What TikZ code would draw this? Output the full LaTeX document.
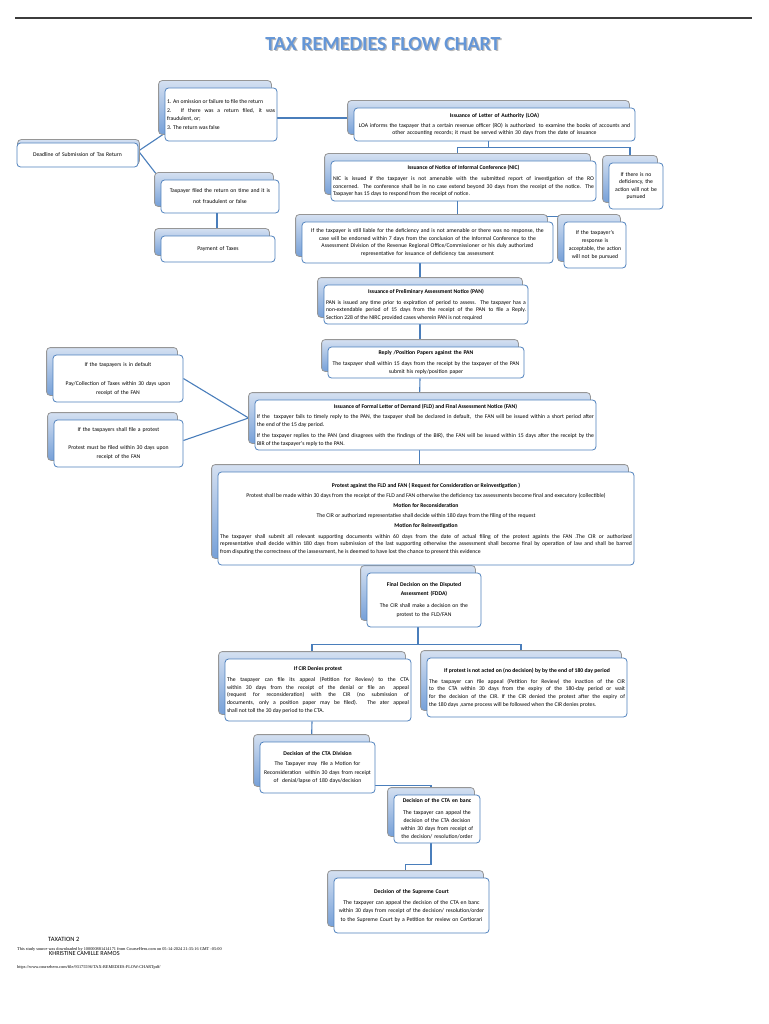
\documentclass[tikz,border=0pt]{standalone}
\usepackage{fontspec}
\setmainfont{Carlito}
\newfontfamily\notefont{Liberation Serif}
\usetikzlibrary{calc}
\setlength{\parindent}{0pt}

\pgfdeclarelayer{background}
\pgfsetlayers{background,main}

\definecolor{frontblue}{RGB}{79,129,189}
\definecolor{linkblue}{RGB}{74,126,187}
\definecolor{backgray}{RGB}{150,150,150}
\definecolor{backtop}{RGB}{212,224,241}
\definecolor{backbot}{RGB}{118,160,216}
\definecolor{titleblue}{RGB}{100,150,215}
\definecolor{rulegray}{RGB}{60,60,60}

\tikzset{
  chartbox/.style={draw=frontblue, fill=white, rounded corners=3.5pt, line width=0.8pt,
    inner xsep=2pt, inner ysep=1pt, font=\fontsize{5.7}{7.4}\selectfont},
  lead/.style={font=\fontsize{5.7}{#1}\selectfont},
  backbox/.style={draw=backgray, line width=0.8pt, rounded corners=3.5pt,
    top color=backtop, bottom color=backbot},
  link/.style={draw=linkblue, line width=1.1pt},
}
\newcommand{\boxhead}[2][3pt]{{\centering\bfseries #2\par}\vspace{#1}}

\begin{document}
\begin{tikzpicture}[x=1pt,y=-1pt]
  \useasboundingbox (0,0) rectangle (768,1024);

  % heading
  \draw[line width=1.5pt, rulegray] (15,18) -- (752,18);
  \node[anchor=base, text=gray!55, font=\fontsize{20}{24}\selectfont\bfseries] at (384.3,51.8) {TAX REMEDIES FLOW CHART};
  \node[anchor=base, text=titleblue, font=\fontsize{20}{24}\selectfont\bfseries] (title) at (383,50.5) {TAX REMEDIES FLOW CHART};

  % left column
  \node[chartbox, text width=117pt, minimum height=24pt, align=center] (deadline) at (77.5,155) {Deadline of Submission of Tax Return};
  \node[chartbox, text width=108pt, minimum height=53pt, align=justify, lead=8.6] (omit) at (221,114.5)
    {1. An omission or failure to file the return\par
     2. If there was a return filed, it was\linebreak fraudulent, or;\par
     3. The return was false};
  \node[chartbox, text width=114pt, minimum height=33pt, align=center, lead=11] (filed) at (220,196.5)
    {Taxpayer filed the return on time and it is\\ not fraudulent or false};
  \node[chartbox, text width=110pt, minimum height=26pt, align=center] (payment) at (218,249) {Payment of Taxes};

  % investigation
  \node[chartbox, text width=277pt, minimum height=33pt, align=center] (loa) at (494.5,124.5)
    {\textbf{Issuance of Letter of Authority (LOA)}\\[2.5pt]
     LOA informs the taxpayer that a certain revenue officer (RO) is authorized\ \ to examine the books of accounts and\\
     other accounting records; it must be served within 30 days from the date of issuance};
  \node[chartbox, text width=261pt, minimum height=40pt, align=justify] (nic) at (463.5,181)
    {\boxhead[3.5pt]{Issuance of Notice of Informal Conference (NIC)}
     NIC is issued if the taxpayer is not amenable with the submitted report of investigation of the RO\linebreak
     concerned. The conference shall be in no case extend beyond 30 days from the receipt of the notice. The\linebreak
     Taxpayer has 15 days to respond from the receipt of notice.};
  \node[chartbox, text width=50pt, minimum height=46pt, align=center, lead=7.4] (nodef) at (636,186)
    {If there is no\\ deficiency, the\\ action will not be\\ pursued};
  \node[chartbox, text width=247pt, minimum height=41pt, align=center, lead=7.8] (liable) at (427.5,242.5)
    {If the taxpayer is still liable for the deficiency and is not amenable or there was no response, the\\
     case will be endorsed within 7 days from the conclusion of the Informal Conference to the\\
     Assessment Division of the Revenue Regional Office/Commissioner or his duly authorized\\
     representative for issuance of deficiency tax assessment};
  \node[chartbox, text width=58pt, minimum height=46pt, align=center, lead=8] (resp) at (595,245)
    {If the taxpayer's\\ response is\\ acceptable, the action\\ will not be pursued};

  % assessment
  \node[chartbox, text width=200pt, minimum height=39pt, align=justify, lead=7.6] (pan) at (426,304.5)
    {\boxhead[3.5pt]{Issuance of Preliminary Assessment Notice (PAN)}
     PAN is issued any time prior to expiration of period to assess. The taxpayer has a\linebreak
     non-extendable period of 15 days from the receipt of the PAN to file a Reply.\linebreak
     Section 228 of the NIRC provided cases wherein PAN is not required};
  \node[chartbox, text width=192pt, minimum height=31pt, align=center, lead=7.8] (reply) at (426,362.5)
    {\textbf{Reply /Position Papers against the PAN}\\[2.5pt]
     The taxpayer shall within 15 days from the receipt by the taxpayer of the PAN\\
     submit his reply/position paper};
  \node[chartbox, text width=126pt, minimum height=47pt, align=center, lead=9] (default) at (118,378.5)
    {If the taxpayers is in default\\[10pt]
     Pay/Collection of Taxes within 30 days upon\\ receipt of the FAN};
  \node[chartbox, text width=125pt, minimum height=47pt, align=center, lead=9.5] (protest) at (118.5,443.5)
    {If the taxpayers shall file a protest\\[8.5pt]
     Protest must be filed within 30 days upon\\ receipt of the FAN};
  \node[chartbox, text width=337pt, minimum height=50pt, align=justify, lead=7.8] (fld) at (425.5,425)
    {\boxhead[2.5pt]{Issuance of Formal Letter of Demand (FLD) and Final Assessment Notice (FAN)}
     If the\ \ taxpayer fails to timely reply to the PAN, the taxpayer shall be declared in default,\ \ the FAN will be issued within a short period after\linebreak
     the end of the 15 day period.\par\vspace{3.2pt}
     If the taxpayer replies to the PAN (and disagrees with the findings of the BIR), the FAN will be issued within 15 days after the receipt by the\linebreak
     BIR of the taxpayer's reply to the PAN.};

  % protest
  \node[chartbox, text width=412pt, minimum height=93pt, align=justify, lead=7.6] (big) at (426,518.5)
    {\boxhead[2.6pt]{Protest against the FLD and FAN ( Request for Consideration or Reinvestigation )}
     {\centering Protest shall be made within 30 days from the receipt of the FLD and FAN otherwise the deficiency tax assessments become final and executory (collectible)\par}\vspace{2.6pt}
     \boxhead[2.6pt]{Motion for Reconsideration}
     {\centering The CIR or authorized representative shall decide within 180 days from the filing of the request\par}\vspace{2.6pt}
     \boxhead[2.6pt]{Motion for Reinvestigation}
     The taxpayer shall submit all relevant supporting documents within 60 days from the date of actual filing of the protest againts the FAN .The CIR or authorized\linebreak
     representative shall decide within 180 days from submission of the last supporting otherwise the assessment shall become final by operation of law and shall be barred\linebreak
     from disputing the correctness of the iassessment, he is deemed to have lost the chance to present this evidence};
  \node[chartbox, text width=110pt, minimum height=54pt, align=center, lead=9] (fdda) at (424,600)
    {\textbf{Final Decision on the Disputed}\\ \textbf{Assessment (FDDA)}\\[3.5pt]
     The CIR shall make a decision on the\\ protest to the FLD/FAN};

  % appeal
  \node[chartbox, text width=182pt, minimum height=62pt, align=justify, lead=7.8] (cir) at (318,690)
    {\boxhead[3pt]{If CIR Denies protest}
     The taxpayer can file its appeal (Petition for Review) to the CTA\linebreak
     within 30 days from the receipt of the denial or file an\ \ appeal\linebreak
     (request for reconsideration) with the CIR (no submission of\linebreak
     documents, only a position paper may be filed). The ater appeal\linebreak
     shall not toll the 30 day period to the CTA.};
  \node[chartbox, text width=196pt, minimum height=59pt, align=justify, lead=7.6] (noact) at (527,687.5)
    {\boxhead[3.5pt]{If protest is not acted on (no decision) by by the end of 180 day period}
     The taxpayer can file appeal (Petition for Review) the inaction of the CIR\linebreak
     to the CTA within 30 days from the expiry of the 180-day period or wait\linebreak
     for the decision of the CIR. If the CIR denied the protest after the expiry of\linebreak
     the 180 days ,same process will be followed when the CIR denies protes.};
  \node[chartbox, text width=111pt, minimum height=51pt, align=center, lead=8.5] (div) at (317.5,767.5)
    {\textbf{Decision of the CTA Division}\\[2pt]
     The Taxpayer may\ \ file a Motion for\\ Reconsideration\ \ within 30 days from receipt\\ of\ \ denial/lapse of 180 days/decision};
  \node[chartbox, text width=82pt, minimum height=48pt, align=center, lead=8.2] (banc) at (437,819)
    {\textbf{Decision of the CTA en banc}\\[3pt]
     The taxpayer can appeal the\\ decision of the CTA decision\\ within 30 days from receipt of\\ the decision/ resolution/order};
  \node[chartbox, text width=151pt, minimum height=55pt, align=center, lead=8.5] (sc) at (411.5,905.5)
    {\textbf{Decision of the Supreme Court}\\[2.5pt]
     The taxpayer can appeal the decision of the CTA en banc\\
     within 30 days from receipt of the decision/ resolution/order\\
     to the Supreme Court by a Petition for review on Certiorari};

  % footer
  \node[anchor=base west, inner sep=0pt, font=\fontsize{6.5}{8}\selectfont] (course) at (48,941.5) {TAXATION 2};
  \node[anchor=base west, inner sep=0pt, font=\notefont\fontsize{4.3}{5}\selectfont] (source) at (17,950.5) {This study source was downloaded by 100000881414171 from CourseHero.com on 05-14-2024 21:35:16 GMT -05:00};
  \node[anchor=base west, inner sep=0pt, font=\fontsize{6.2}{8}\selectfont] (author) at (49,955.5) {KHRISTINE CAMILLE RAMOS};
  \node[anchor=base west, inner sep=0pt, font=\notefont\fontsize{4.3}{5}\selectfont] (link) at (17,968.5) {https://www.coursehero.com/file/93175596/TAX-REMEDIES-FLOW-CHARTpdf/};

  \begin{pgfonlayer}{background}
    % connectors
    \draw[link] ([yshift=4pt]deadline.east) -- ([yshift=8pt]omit.south west);
    \draw[link] ([yshift=4pt]deadline.east) -- (filed.north west);
    \draw[link] ([yshift=-3.5pt]omit.east) -- ([yshift=-3.5pt]omit.east -| loa.west);
    \draw[link] ([xshift=-3pt]filed.south) -- ([xshift=-3pt]filed.south |- payment.north);
    \draw[link] ([xshift=-6pt]loa.south) -- ++(0,6) -| ([xshift=-6pt]nic.north);
    \draw[link] ([xshift=-6pt]loa.south) -- ++(0,6) -| ([xshift=-6pt]nodef.north);
    \draw[link] ([xshift=-6pt]nic.south) -- ([xshift=-6pt]nic.south |- liable.north);
    \draw[link] ([xshift=-6pt]nic.south) -- ++(0,15) -| ([xshift=-6pt]resp.north);
    \draw[link] ([xshift=-6pt]pan.south |- liable.south) -- ([xshift=-6pt]pan.north);
    \draw[link] ([xshift=-6pt]pan.south) -- ([xshift=-6pt]reply.north);
    \draw[link] ([xshift=-6pt]reply.south) -- ([xshift=-6pt]fld.north);
    \draw[link] ([shift={(-6pt,7pt)}]fld.west) -- (default.east);
    \draw[link] ([shift={(-6pt,7pt)}]fld.west) -- ([yshift=3pt]protest.east);
    \draw[link] ([xshift=-6pt]fld.south) -- ([xshift=-6pt]fld.south |- big.north);
    \draw[link] ([xshift=-6pt]big.south) -- ([xshift=-6pt]big.south |- fdda.north);
    \draw[link] ([xshift=-6pt]fdda.south) -- ++(0,17) -| ([xshift=-6pt]cir.north);
    \draw[link] ([xshift=-6pt]fdda.south) -- ++(0,17) -| ([xshift=-6pt]noact.north);
    \draw[link] ([xshift=-6pt]cir.south) -- ([xshift=-6pt]div.north);
    \draw[link] ([yshift=8pt]div.south) -| ([xshift=-6pt]banc.north);
    \draw[link] ([xshift=-6pt]banc.south) -- ++(0,21) -| ([xshift=-6pt]sc.north);
    % back boxes
    \foreach \n in {omit,filed,payment,loa,nic,nodef,liable,resp,pan,reply,default,protest,fld,big,fdda,cir,noact,div,banc,sc}
      \draw[backbox] ([shift={(-6pt,7pt)}]\n.south west) rectangle ([shift={(-6pt,7pt)}]\n.north east);
    \draw[backbox] ([shift={(1pt,3pt)}]deadline.south west) rectangle ([shift={(1pt,3pt)}]deadline.north east);
  \end{pgfonlayer}
\end{tikzpicture}
\end{document}
